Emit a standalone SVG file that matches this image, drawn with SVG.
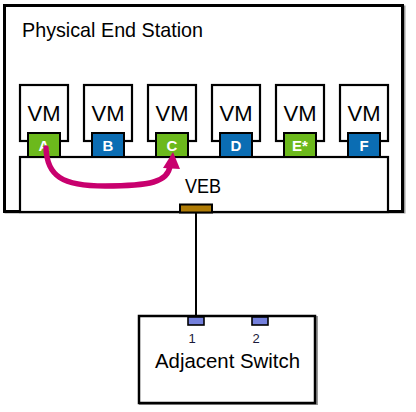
<svg xmlns="http://www.w3.org/2000/svg" width="416" height="412" viewBox="0 0 416 412">
<defs>
<style>
.box{fill:#fff;stroke:#000;stroke-width:2.2}
.outer{fill:#fff;stroke:#000;stroke-width:3}
.lbl{font-family:"Liberation Sans",Arial,sans-serif;fill:#000}
.vm{font-family:"Liberation Sans",Arial,sans-serif;font-size:22px;text-anchor:middle;fill:#000}
.port{stroke:#000;stroke-width:2}
.green{fill:#6cb91c}
.blue{fill:#0b6db3}
.pl{font-family:"Liberation Sans",Arial,sans-serif;font-size:15px;font-weight:bold;fill:#fff;text-anchor:middle}
.num{font-family:"Liberation Sans",Arial,sans-serif;font-size:13px;fill:#1a1a3a;text-anchor:middle}
</style>
</defs>
<rect width="416" height="412" fill="#fff"/>
<g id="station">
<rect x="5.5" y="6.5" width="399" height="206" fill="none" stroke="#999" stroke-width="2"/>
<rect class="outer" x="4.5" y="5.5" width="398" height="206"/>
<text class="lbl" x="22" y="37" font-size="21" textLength="181" lengthAdjust="spacingAndGlyphs">Physical End Station</text>
</g>
<g id="vm-a"><rect class="box" x="20" y="85" width="48" height="56"/><text class="vm" x="44" y="121">VM</text></g>
<g id="vm-b"><rect class="box" x="84" y="85" width="48" height="56"/><text class="vm" x="108" y="121">VM</text></g>
<g id="vm-c"><rect class="box" x="148" y="85" width="48" height="56"/><text class="vm" x="172" y="121">VM</text></g>
<g id="vm-d"><rect class="box" x="212" y="85" width="48" height="56"/><text class="vm" x="236" y="121">VM</text></g>
<g id="vm-e"><rect class="box" x="276" y="85" width="48" height="56"/><text class="vm" x="300" y="121">VM</text></g>
<g id="vm-f"><rect class="box" x="340" y="85" width="48" height="56"/><text class="vm" x="364" y="121">VM</text></g>
<g id="veb">
<rect class="box" x="20" y="157" width="368" height="55"/>
<text class="lbl" x="185" y="193" font-size="21" textLength="36" lengthAdjust="spacingAndGlyphs">VEB</text>
<rect x="180" y="204.5" width="32" height="8" fill="#b07c06" stroke="#000" stroke-width="2"/>
</g>
<g id="port-a"><rect class="port green" x="28" y="133" width="32" height="24"/><text class="pl" x="44" y="151">A</text></g>
<g id="port-b"><rect class="port blue" x="92" y="133" width="32" height="24"/><text class="pl" x="108" y="151">B</text></g>
<g id="port-c"><rect class="port green" x="156" y="133" width="32" height="24"/><text class="pl" x="172" y="151">C</text></g>
<g id="port-d"><rect class="port blue" x="220" y="133" width="32" height="24"/><text class="pl" x="236" y="151">D</text></g>
<g id="port-e"><rect class="port green" x="284" y="133" width="32" height="24"/><text class="pl" x="300" y="151">E*</text></g>
<g id="port-f"><rect class="port blue" x="348" y="133" width="32" height="24"/><text class="pl" x="364" y="151">F</text></g>
<g id="switch">
<rect x="140" y="317" width="177" height="87" fill="none" stroke="#999" stroke-width="2"/>
<rect x="139" y="316" width="176" height="87" fill="#fff" stroke="#000" stroke-width="2.5"/>
<rect x="188" y="317" width="16" height="8" fill="#7480dc" stroke="#000" stroke-width="1.6"/>
<rect x="252" y="317" width="16" height="8" fill="#7480dc" stroke="#000" stroke-width="1.6"/>
<text class="num" x="192" y="343">1</text>
<text class="num" x="256" y="343">2</text>
<text class="lbl" x="155" y="368" font-size="20.5" textLength="145" lengthAdjust="spacingAndGlyphs">Adjacent Switch</text>
</g>
<g id="connectors">
<line x1="196" y1="212" x2="196" y2="317" stroke="#000" stroke-width="2"/>
<path d="M46,148 C47,176 62,186 105,186 C150,186 168,182 170,166" fill="none" stroke="#c8006e" stroke-width="5.5" stroke-linecap="round"/>
<polygon points="173,152 163,168 180,169" fill="#c8006e"/>
</g>
</svg>
